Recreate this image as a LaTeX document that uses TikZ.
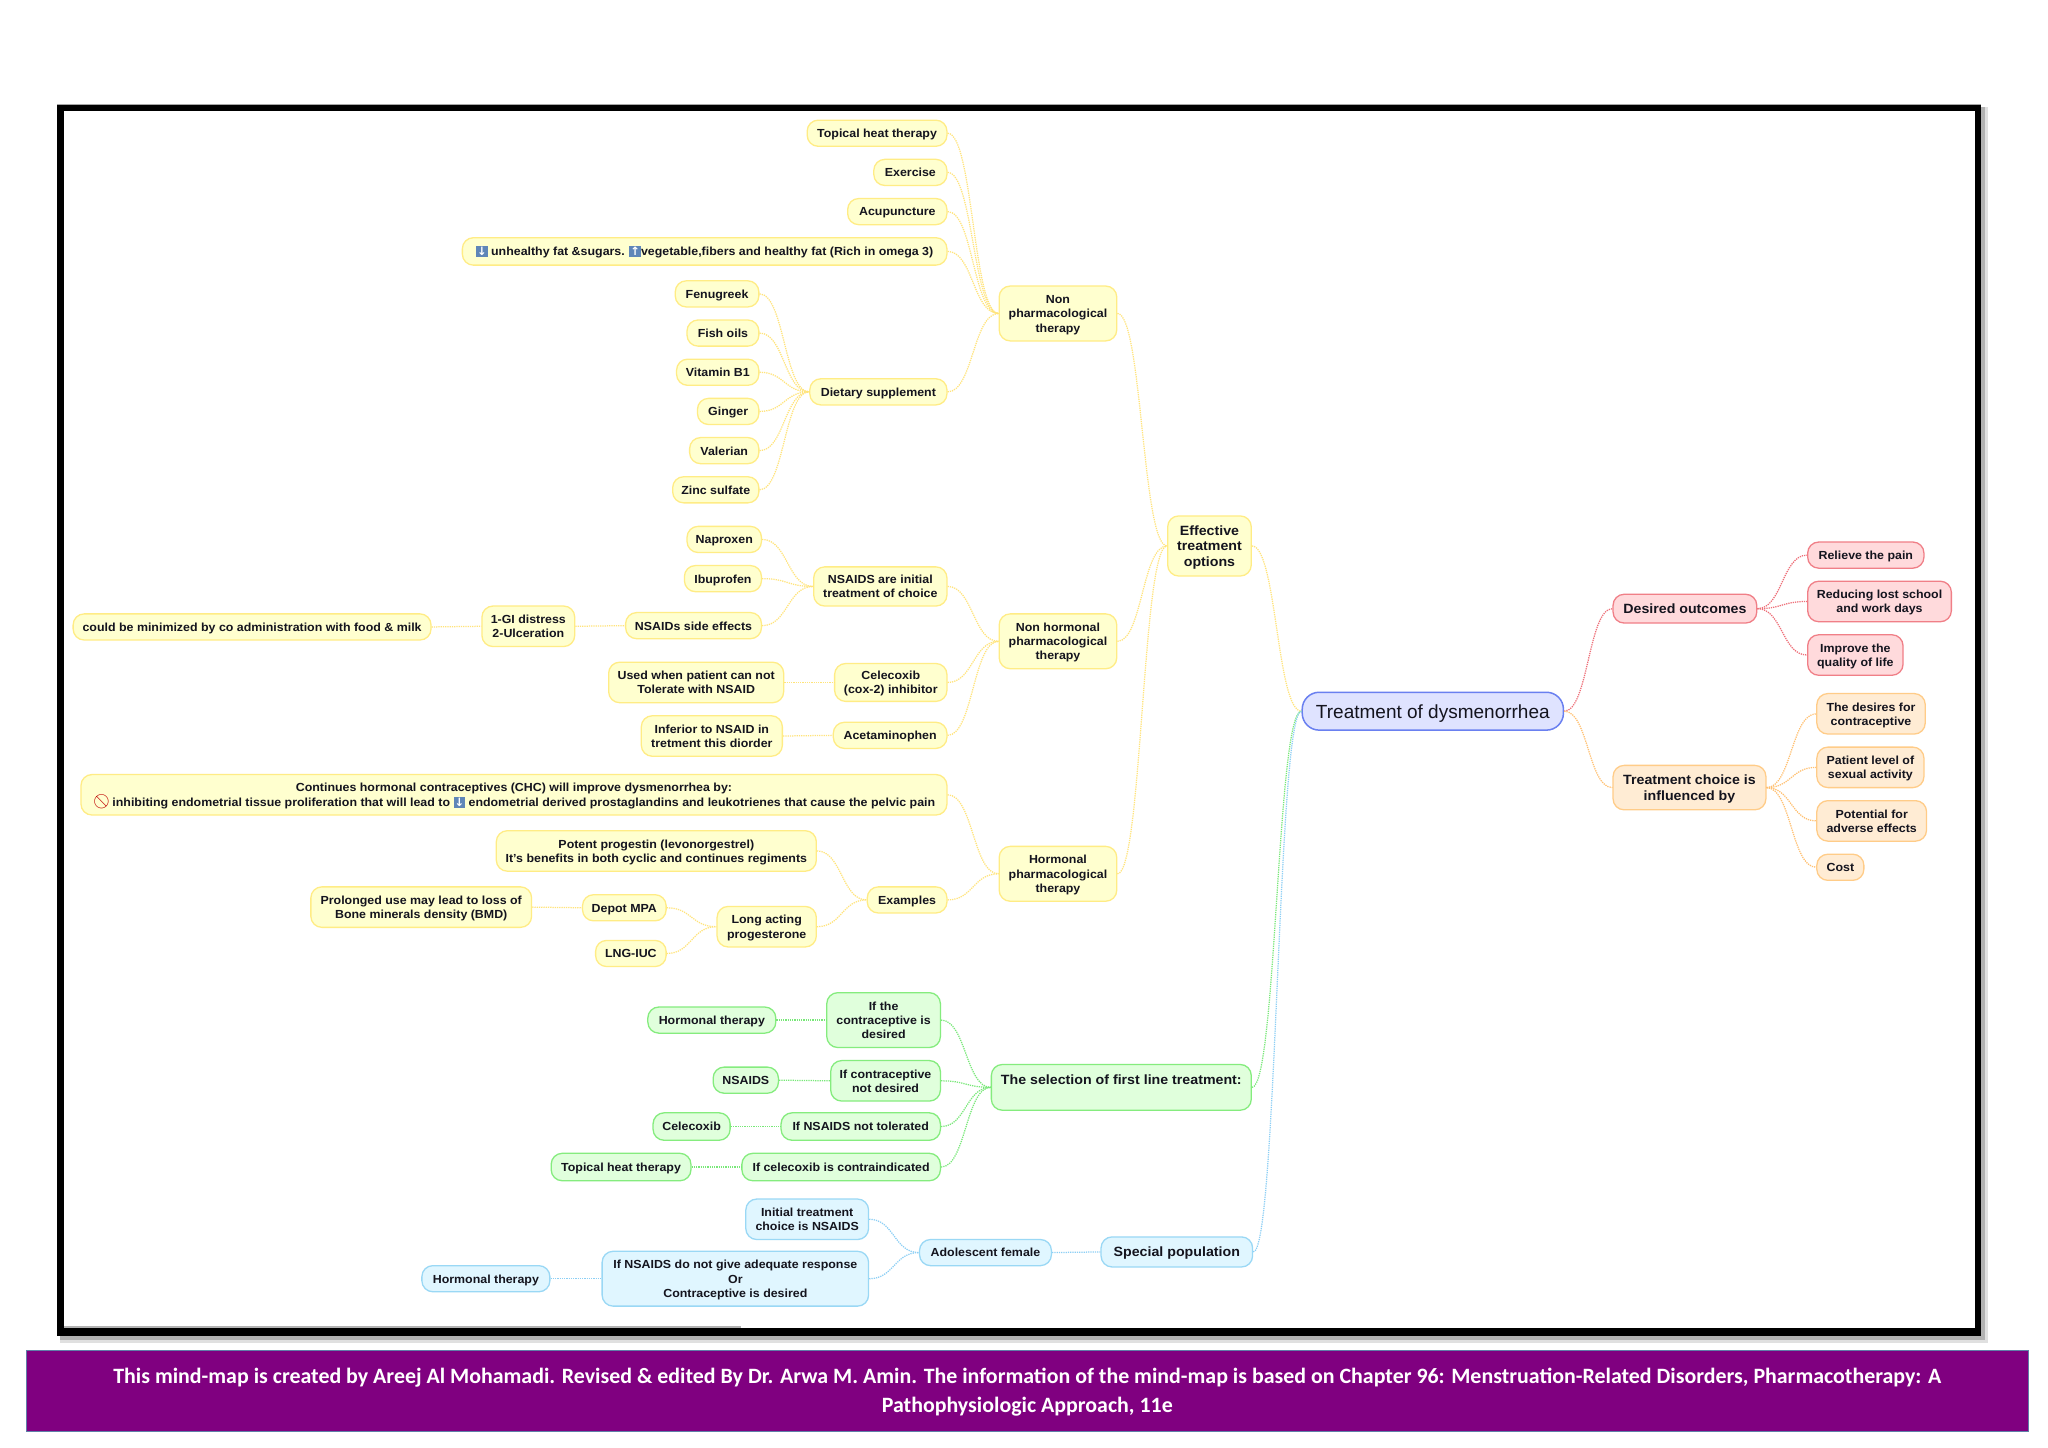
\documentclass[tikz,border=0pt]{standalone}
\usepackage{fontspec}
\setmainfont[FakeStretch=1.06]{Liberation Sans}
\newfontfamily\rootfont{Liberation Sans}
\newfontfamily\footfont{Carlito}
\newfontfamily\symfont{DejaVu Sans}
\newfontfamily\emojifont{Noto Emoji}
\usetikzlibrary{calc}
\definecolor{yF}{HTML}{FFFFCF}\definecolor{yD}{HTML}{FFEC85}\definecolor{yL}{HTML}{FFE47A}
\definecolor{gF}{HTML}{E0FFDC}\definecolor{gD}{HTML}{85EC7E}\definecolor{gL}{HTML}{78E878}
\definecolor{bF}{HTML}{E0F6FF}\definecolor{bD}{HTML}{9AD8F5}\definecolor{bL}{HTML}{8CCFF5}
\definecolor{rF}{HTML}{FFDADC}\definecolor{rD}{HTML}{F07F87}\definecolor{rL}{HTML}{EE6F78}
\definecolor{oF}{HTML}{FFECD4}\definecolor{oD}{HTML}{FFCC88}\definecolor{oL}{HTML}{FFC070}
\definecolor{rootF}{HTML}{DFE3FF}\definecolor{rootD}{HTML}{6A80F0}
\definecolor{band}{HTML}{800080}\definecolor{bandD}{HTML}{5F7FA8}
\definecolor{icon}{HTML}{5F86B8}\definecolor{ink}{HTML}{14141E}
\newcommand\dnicon{{\setlength\fboxsep{1pt}\colorbox{icon}{\textcolor{white}{\symfont\bfseries\fontsize{11.5}{11.5}\selectfont ↓}}}}
\newcommand\upicon{{\setlength\fboxsep{1pt}\colorbox{icon}{\textcolor{white}{\symfont\bfseries\fontsize{11.5}{11.5}\selectfont ↑}}}}
\newcommand\noicon{{\textcolor{red!75!black}{\emojifont\fontsize{14}{14}\selectfont 🚫}}}
\newcommand\topstrut{\rule{0pt}{1.01em}}
\newcommand\botstrut{\rule[-.26em]{0pt}{.26em}}
\newcommand\mm[7]{\node[#1,minimum width={(#4-#3)*1.3061pt},minimum height={(#6-#5)*1.3061pt}] (#2) at ({(#3+#4)/2},{(#5+#6)/2}) {\topstrut#7\botstrut};}
\tikzset{
 x=1.3061pt,y=-1.3061pt,
 mbase/.style={rounded corners=11pt,line width=1.3pt,align=center,inner sep=0pt,text=ink,font=\bfseries\fontsize{11.7}{14.2}\selectfont},
 big/.style={font=\bfseries\fontsize{13.4}{15.6}\selectfont},
 yn/.style={mbase,draw=yD,fill=yF},
 gn/.style={mbase,draw=gD,fill=gF},
 bn/.style={mbase,draw=bD,fill=bF},
 rn/.style={mbase,draw=rD,fill=rF},
 on/.style={mbase,draw=oD,fill=oF},
 rootn/.style={mbase,draw=rootD,fill=rootF,rounded corners=17pt,line width=1.5pt,font=\rootfont\fontsize{19}{22}\selectfont},
 lk/.style={densely dotted,line width=1.25pt,to path={let \p1=(\tikztostart),\p2=(\tikztotarget) in .. controls ({(\x1+\x2)/2},\y1) and ({(\x1+\x2)/2},\y2) .. (\tikztotarget)}},
 yl/.style={lk,draw=yL},
 gl/.style={lk,draw=gL},
 bl/.style={lk,draw=bL},
 rl/.style={lk,draw=rL},
 ol/.style={lk,draw=oL},
 footer/.style={text=white,align=center,font=\footfont\bfseries\fontsize{21.9}{28.7}\selectfont},
}
\begin{document}
\begin{tikzpicture}
\useasboundingbox (0,0) rectangle (1568,1108.6);
\fill[white] (0,0) rectangle (1568,1108.6);
% frame
\fill[black!12] (46,82) rectangle (1522,1028);
\fill[black!30] (46,82) rectangle (1520,1026);
\fill[black] (44,80) rectangle (1517,1023);
\fill[black!35] (43.5,79.5) rectangle (1517,80.5);
\fill[white] (49,85) rectangle (1512,1017);
\fill[black!30] (49,1015.5) rectangle (567,1017);
% footer band
\node[draw=bandD,fill=band,line width=1pt,minimum width={1533*1.3061pt},minimum height={62*1.3061pt},inner sep=0pt] (bandbox) at (786.5,1065) {};
\node[footer] (bandtext) at (786.5,1066) {This mind-map is created by Areej Al Mohamadi. Revised \& edited By Dr. Arwa M. Amin. The information of the mind-map is based on Chapter 96: Menstruation-Related Disorders, Pharmacotherapy: A\\Pathophysiologic Approach, 11e};
% yellow branch
\mm{yn}{a1}{618}{725}{92}{112}{Topical heat therapy}
\mm{yn}{a2}{669}{725}{122}{142}{Exercise}
\mm{yn}{a3}{649}{725}{152}{172}{Acupuncture}
\mm{yn}{a4}{354}{725}{182}{203}{\dnicon\ unhealthy fat \&sugars. \upicon vegetable,fibers and healthy fat (Rich in omega 3)}
\mm{yn}{d1}{517}{581}{215}{235}{Fenugreek}
\mm{yn}{d2}{526}{581}{245}{265}{Fish oils}
\mm{yn}{d3}{518}{581}{275}{295}{Vitamin B1}
\mm{yn}{d4}{534}{581}{305}{325}{Ginger}
\mm{yn}{d5}{528}{581}{335}{355}{Valerian}
\mm{yn}{d6}{515}{581}{365}{385}{Zinc sulfate}
\mm{yn}{diet}{620}{725}{290}{310}{Dietary supplement}
\mm{yn}{nonph}{765}{855}{219}{261}{Non\\pharmacological\\therapy}
\mm{yn,big}{eff}{894}{958}{395}{441}{Effective\\treatment\\options}
\mm{yn}{nap}{526}{583}{403}{423}{Naproxen}
\mm{yn}{ibu}{524}{583}{433}{453}{Ibuprofen}
\mm{yn}{init}{623}{725}{434}{464}{NSAIDS are initial\\treatment of choice}
\mm{yn}{side}{479}{583}{469}{489}{NSAIDs side effects}
\mm{yn}{gi}{369}{440}{464}{495}{1-GI distress\\2-Ulceration}
\mm{yn}{food}{56}{330}{470}{490}{could be minimized by co administration with food \& milk}
\mm{yn}{used}{466}{600}{507}{538}{Used when patient can not\\Tolerate with NSAID}
\mm{yn}{cele}{639}{725}{508}{537}{Celecoxib\\(cox-2) inhibitor}
\mm{yn}{inf}{491}{599}{548}{579}{Inferior to NSAID in\\tretment this diorder}
\mm{yn}{acet}{638}{725}{553}{573}{Acetaminophen}
\mm{yn}{nonh}{765}{855}{470}{512}{Non hormonal\\pharmacological\\therapy}
\mm{yn}{chc}{62}{725}{593}{624}{Continues hormonal contraceptives (CHC) will improve dysmenorrhea by:\\\noicon\,inhibiting endometrial tissue proliferation that will lead to \dnicon\ endometrial derived prostaglandins and leukotrienes that cause the pelvic pain}
\mm{yn}{pot}{380}{625}{636}{667}{Potent progestin (levonorgestrel)\\It's benefits in both cyclic and continues regiments}
\mm{yn}{ex}{664}{725}{679}{699}{Examples}
\mm{yn}{horm}{765}{855}{648}{690}{Hormonal\\pharmacological\\therapy}
\mm{yn}{long}{549}{625}{694}{725}{Long acting\\progesterone}
\mm{yn}{depot}{446}{510}{685}{705}{Depot MPA}
\mm{yn}{lng}{456}{510}{720}{740}{LNG-IUC}
\mm{yn}{prol}{238}{407}{679}{710}{Prolonged use may lead to loss of\\Bone minerals density (BMD)}
% green branch
\mm{gn}{g1}{633}{720}{760}{802}{If the\\contraceptive is\\desired}
\mm{gn}{g1a}{496}{594}{771}{791}{Hormonal therapy}
\mm{gn}{g2}{636}{720}{812}{843}{If contraceptive\\not desired}
\mm{gn}{g2a}{546}{596}{817}{837}{NSAIDS}
\mm{gn}{g3}{598}{720}{852}{873}{If NSAIDS not tolerated}
\mm{gn}{g3a}{500}{559}{852}{873}{Celecoxib}
\mm{gn}{g4}{568}{720}{883}{904}{If celecoxib is contraindicated}
\mm{gn}{g4a}{422}{529}{883}{904}{Topical heat therapy}
\mm{gn,big}{sel}{759}{958}{815}{850}{The selection of first line treatment:\\\mbox{}}
% blue branch
\mm{bn}{b1}{571}{665}{918}{949}{Initial treatment\\choice is NSAIDS}
\mm{bn}{b2}{461}{665}{958}{1000}{If NSAIDS do not give adequate response\\Or\\Contraceptive is desired}
\mm{bn}{b2a}{323}{421}{969}{989}{Hormonal therapy}
\mm{bn}{ado}{704}{805}{949}{969}{Adolescent female}
\mm{bn,big}{spec}{843}{959}{947}{970}{Special population}
% root
\mm{rootn}{root}{997}{1197}{530}{559}{Treatment of dysmenorrhea}
% red branch
\mm{rn,big}{des}{1235}{1345}{455}{477}{Desired outcomes}
\mm{rn}{r1}{1384}{1473}{415}{435}{Relieve the pain}
\mm{rn}{r2}{1384}{1494}{445}{476}{Reducing lost school\\and work days}
\mm{rn}{r3}{1384}{1457}{486}{517}{Improve the\\quality of life}
% orange branch
\mm{on,big}{cho}{1235}{1352}{586}{620}{Treatment choice is\\influenced by}
\mm{on}{o1}{1391}{1474}{531}{562}{The desires for\\contraceptive}
\mm{on}{o2}{1391}{1473}{572}{603}{Patient level of\\sexual activity}
\mm{on}{o3}{1391}{1475}{613}{644}{Potential for\\adverse effects}
\mm{on}{o4}{1391}{1427}{654}{674}{Cost}
% connectors
\foreach \c in {a1,a2,a3,a4,diet} \draw[yl] (\c.east) to (nonph.west);
\foreach \c in {d1,d2,d3,d4,d5,d6} \draw[yl] (\c.east) to (diet.west);
\foreach \c in {nap,ibu,side} \draw[yl] (\c.east) to (init.west);
\draw[yl] (food.east) to (gi.west);
\draw[yl] (gi.east) to (side.west);
\draw[yl] (used.east) to (cele.west);
\draw[yl] (inf.east) to (acet.west);
\foreach \c in {init,cele,acet} \draw[yl] (\c.east) to (nonh.west);
\foreach \c in {chc,ex} \draw[yl] (\c.east) to (horm.west);
\foreach \c in {pot,long} \draw[yl] (\c.east) to (ex.west);
\foreach \c in {depot,lng} \draw[yl] (\c.east) to (long.west);
\draw[yl] (prol.east) to (depot.west);
\foreach \c in {nonph,nonh,horm} \draw[yl] (\c.east) to (eff.west);
\draw[yl] (eff.east) to (root.west);
\foreach \c in {g1,g2,g3,g4} \draw[gl] (\c.east) to (sel.west);
\draw[gl] (g1a.east) to (g1.west);
\draw[gl] (g2a.east) to (g2.west);
\draw[gl] (g3a.east) to (g3.west);
\draw[gl] (g4a.east) to (g4.west);
\draw[gl] (sel.east) to (root.west);
\foreach \c in {b1,b2} \draw[bl] (\c.east) to (ado.west);
\draw[bl] (b2a.east) to (b2.west);
\draw[bl] (ado.east) to (spec.west);
\draw[bl] (spec.east) to (root.west);
\draw[rl] (root.east) to (des.west);
\foreach \c in {r1,r2,r3} \draw[rl] (des.east) to (\c.west);
\draw[ol] (root.east) to (cho.west);
\foreach \c in {o1,o2,o3,o4} \draw[ol] (cho.east) to (\c.west);
\end{tikzpicture}
\end{document}
